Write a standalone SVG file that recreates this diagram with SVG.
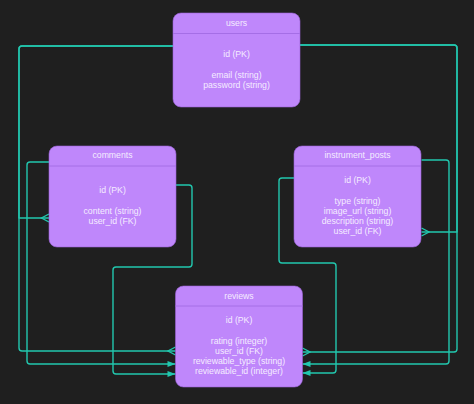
<svg xmlns="http://www.w3.org/2000/svg" width="474" height="404" viewBox="0 0 474 404">
<defs>
<style>
.bg{fill:#1f1f1f}
.box{fill:#bf87fb;stroke:#9a62d6;stroke-width:0.6}
.sep{stroke:#a56ee6;stroke-width:1}
.t{font-family:"Liberation Sans",Arial,sans-serif;font-size:8.7px;fill:#f5ecff;text-anchor:middle}
.c{fill:none;stroke:#22c7ae;stroke-width:1.4;stroke-linejoin:round}
</style>
<marker id="arrow" viewBox="0 0 10 10" markerUnits="userSpaceOnUse" markerWidth="10" markerHeight="10" refX="9" refY="5" orient="auto">
<path d="M1,2 L9,5 L1,8 Z" fill="#22c7ae"/>
</marker>
<marker id="crow" viewBox="0 0 10 10" markerUnits="userSpaceOnUse" markerWidth="10" markerHeight="10" refX="9.5" refY="5" orient="auto">
<path d="M9.5,1 L2,5 L9.5,9" fill="none" stroke="#22c7ae" stroke-width="1.4"/>
</marker>
</defs>
<rect class="bg" x="0" y="0" width="474" height="404"/>
<g id="connectors">
<path class="c" d="M173,46 H22 Q19,46 19,49 V348 Q19,351 22,351 H175.5" marker-end="url(#crow)"/>
<path class="c" d="M173,46 H22 Q19,46 19,49 V218 H49" marker-end="url(#crow)"/>
<path class="c" d="M49,162 H30 Q27,162 27,165 V361 Q27,364 30,364 H175.5" marker-end="url(#arrow)"/>
<path class="c" d="M176,185 H189 Q192,185 192,188 V264 Q192,267 189,267 H116 Q113,267 113,270 V371 Q113,374 116,374 H175.5" marker-end="url(#arrow)"/>
<path class="c" d="M300,45 H454 Q457,45 457,48 V349 Q457,352 454,352 H302.5" marker-end="url(#crow)"/>
<path class="c" d="M300,45 H454 Q457,45 457,48 V232 H421.5" marker-end="url(#crow)"/>
<path class="c" d="M421.5,160 H446 Q449,160 449,163 V361 Q449,364 446,364 H302.5" marker-end="url(#arrow)"/>
<path class="c" d="M294,178 H282 Q279,178 279,181 V260 Q279,263 282,263 H333 Q336,263 336,266 V370 Q336,373 333,373 H302.5" marker-end="url(#arrow)"/>
</g>
<g id="users">
<rect class="box" x="173" y="13" width="127" height="94" rx="8"/>
<line class="sep" x1="173" y1="33.5" x2="300" y2="33.5"/>
<text class="t" x="236.5" y="26">users</text>
<text class="t" x="236.5" y="57">id (PK)</text>
<text class="t" x="236.5" y="77.5">email (string)</text>
<text class="t" x="236.5" y="88">password (string)</text>
</g>
<g id="comments">
<rect class="box" x="49" y="146" width="127" height="101" rx="8"/>
<line class="sep" x1="49" y1="166" x2="176" y2="166"/>
<text class="t" x="112.5" y="158">comments</text>
<text class="t" x="112.5" y="193">id (PK)</text>
<text class="t" x="112.5" y="214">content (string)</text>
<text class="t" x="112.5" y="224">user_id (FK)</text>
</g>
<g id="instrument_posts">
<rect class="box" x="294" y="146" width="127" height="101" rx="8"/>
<line class="sep" x1="294" y1="166" x2="421" y2="166"/>
<text class="t" x="357.5" y="158">instrument_posts</text>
<text class="t" x="357.5" y="183">id (PK)</text>
<text class="t" x="357.5" y="203.5">type (string)</text>
<text class="t" x="357.5" y="213.8">image_url (string)</text>
<text class="t" x="357.5" y="224">description (string)</text>
<text class="t" x="357.5" y="234.3">user_id (FK)</text>
</g>
<g id="reviews">
<rect class="box" x="175.5" y="286" width="127" height="101" rx="8"/>
<line class="sep" x1="175.5" y1="306" x2="302.5" y2="306"/>
<text class="t" x="239" y="298.5">reviews</text>
<text class="t" x="239" y="323">id (PK)</text>
<text class="t" x="239" y="343.5">rating (integer)</text>
<text class="t" x="239" y="353.8">user_id (FK)</text>
<text class="t" x="239" y="364">reviewable_type (string)</text>
<text class="t" x="239" y="374.3">reviewable_id (integer)</text>
</g>
</svg>
